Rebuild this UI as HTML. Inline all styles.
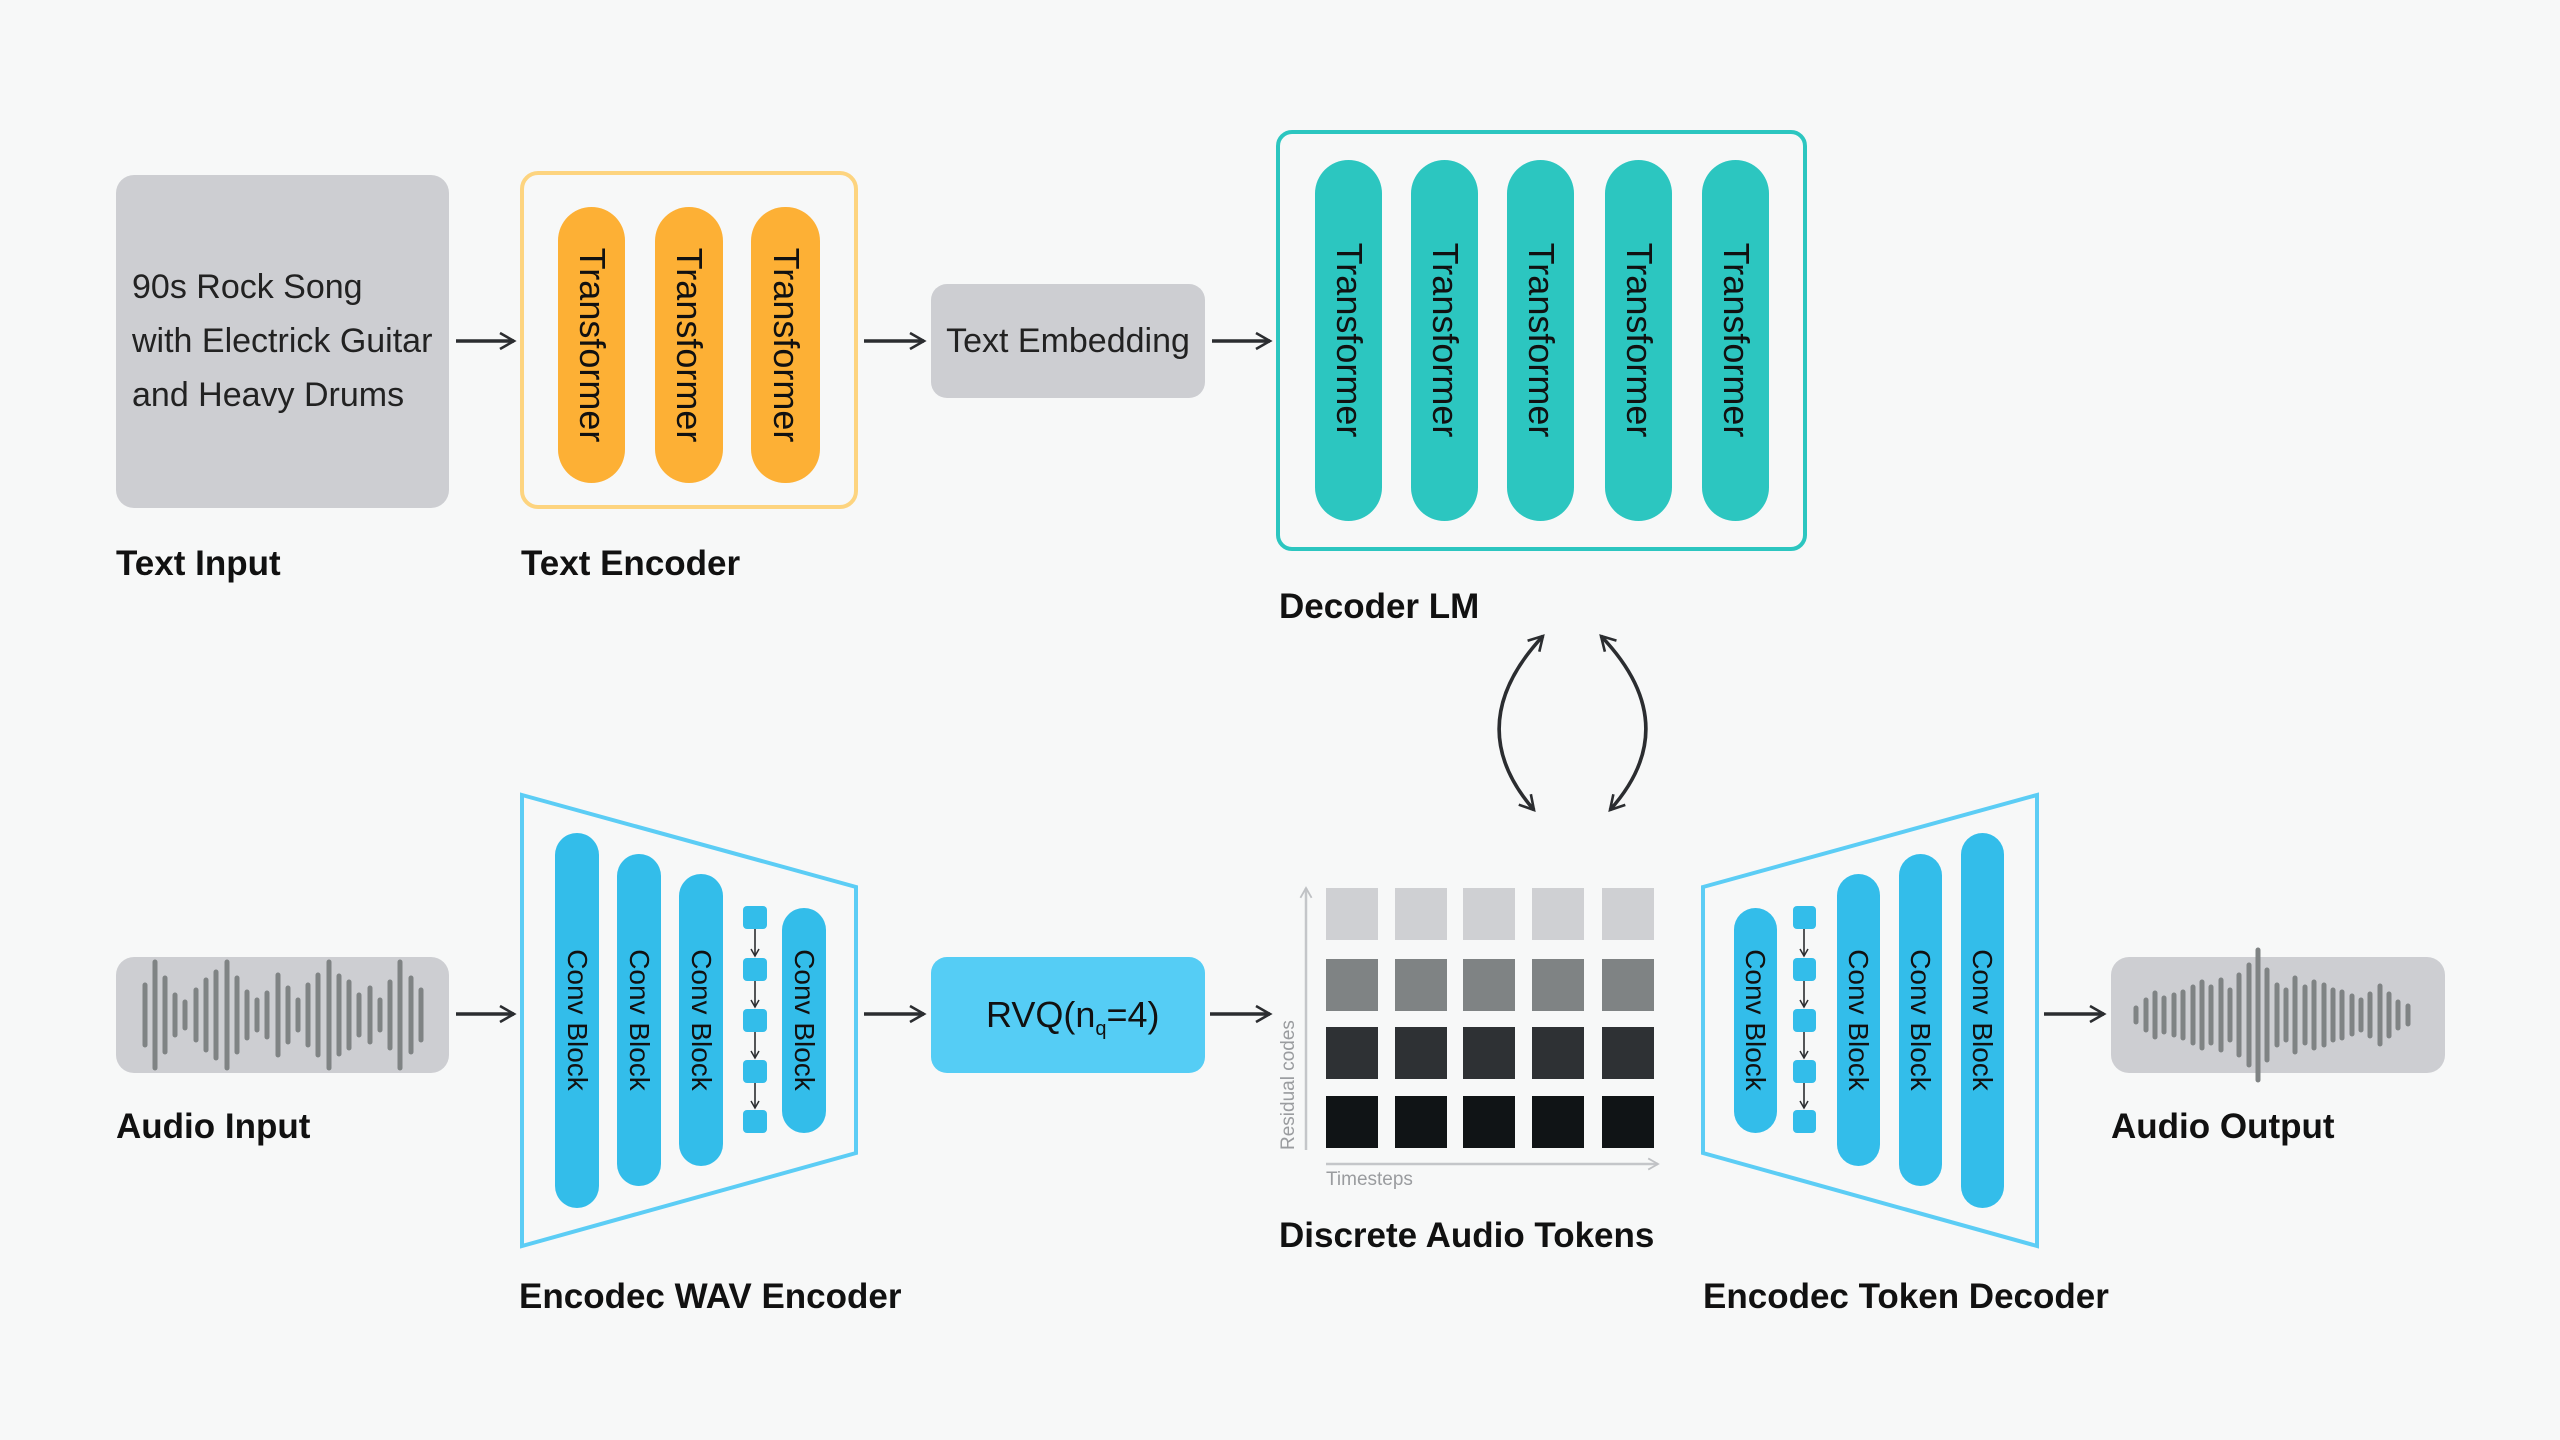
<!DOCTYPE html>
<html><head><meta charset="utf-8"><style>
html,body{margin:0;padding:0;background:#f7f8f8;}
svg{display:block;}
text{font-family:"Liberation Sans",sans-serif;}
</style></head><body>
<svg width="2560" height="1440" viewBox="0 0 2560 1440" xmlns="http://www.w3.org/2000/svg">
<defs>
<marker id="ah" viewBox="0 0 10 10" refX="8" refY="5" markerWidth="7" markerHeight="7" orient="auto-start-reverse" markerUnits="userSpaceOnUse">
<path d="M1,1 L8,5 L1,9" fill="none" stroke="#2b2d30" stroke-width="1.6"/>
</marker>
<marker id="ah2" viewBox="0 0 10 10" refX="8" refY="5" markerWidth="20" markerHeight="20" orient="auto-start-reverse" markerUnits="userSpaceOnUse">
<path d="M1,1 L8,5 L1,9" fill="none" stroke="#2b2d30" stroke-width="1.3"/>
</marker>
<marker id="ahs" viewBox="0 0 10 10" refX="8" refY="5" markerWidth="10" markerHeight="10" orient="auto" markerUnits="userSpaceOnUse">
<path d="M1,1 L8,5 L1,9" fill="none" stroke="#2b2d30" stroke-width="1.5"/>
</marker>
<marker id="ahg" viewBox="0 0 10 10" refX="8" refY="5" markerWidth="14" markerHeight="14" orient="auto" markerUnits="userSpaceOnUse">
<path d="M1,1 L8,5 L1,9" fill="none" stroke="#bfc1c4" stroke-width="1.3"/>
</marker>
</defs>
<rect width="2560" height="1440" fill="#f7f8f8"/>

<!-- Text input -->
<rect x="116" y="175" width="333" height="333" rx="18" fill="#cdced2"/>
<text font-size="34" fill="#222" x="132" y="298">90s Rock Song</text>
<text font-size="34" fill="#222" x="132" y="352">with Electrick Guitar</text>
<text font-size="34" fill="#222" x="132" y="406">and Heavy Drums</text>
<text font-size="35" font-weight="bold" fill="#111" x="116" y="575">Text Input</text>

<!-- Text encoder -->
<rect x="522" y="173" width="334" height="334" rx="16" fill="none" stroke="#fdd47f" stroke-width="4"/>
<g fill="#fdb035">
<rect x="558" y="207" width="67" height="276" rx="33.5"/>
<rect x="655" y="207" width="68" height="276" rx="34"/>
<rect x="751" y="207" width="69" height="276" rx="34"/>
</g>
<g font-size="36" fill="#111" text-anchor="middle">
<text transform="translate(580,345) rotate(90)">Transformer</text>
<text transform="translate(677,345) rotate(90)">Transformer</text>
<text transform="translate(774,345) rotate(90)">Transformer</text>
</g>
<text font-size="35" font-weight="bold" fill="#111" x="521" y="575">Text Encoder</text>

<!-- Text embedding -->
<rect x="931" y="284" width="274" height="114" rx="16" fill="#cdced2"/>
<text font-size="34" fill="#222" x="1068" y="352" text-anchor="middle">Text Embedding</text>

<!-- Decoder LM -->
<rect x="1278" y="132" width="527" height="417" rx="14" fill="none" stroke="#2cc6c0" stroke-width="4"/>
<g fill="#2cc6c0">
<rect x="1315" y="160" width="67" height="361" rx="33.5"/>
<rect x="1411" y="160" width="67" height="361" rx="33.5"/>
<rect x="1507" y="160" width="67" height="361" rx="33.5"/>
<rect x="1605" y="160" width="67" height="361" rx="33.5"/>
<rect x="1702" y="160" width="67" height="361" rx="33.5"/>
</g>
<g font-size="36" fill="#111" text-anchor="middle">
<text transform="translate(1337,340) rotate(90)">Transformer</text>
<text transform="translate(1433,340) rotate(90)">Transformer</text>
<text transform="translate(1529,340) rotate(90)">Transformer</text>
<text transform="translate(1627,340) rotate(90)">Transformer</text>
<text transform="translate(1724,340) rotate(90)">Transformer</text>
</g>
<text font-size="35" font-weight="bold" fill="#111" x="1279" y="618">Decoder LM</text>

<!-- top arrows -->
<g stroke="#2b2d30" stroke-width="3.5" fill="none">
<line x1="456" y1="341" x2="514" y2="341" marker-end="url(#ah2)"/>
<line x1="864" y1="341" x2="924" y2="341" marker-end="url(#ah2)"/>
<line x1="1212" y1="341" x2="1270" y2="341" marker-end="url(#ah2)"/>
<line x1="456" y1="1014" x2="514" y2="1014" marker-end="url(#ah2)"/>
<line x1="864" y1="1014" x2="924" y2="1014" marker-end="url(#ah2)"/>
<line x1="1210" y1="1014" x2="1270" y2="1014" marker-end="url(#ah2)"/>
<line x1="2044" y1="1014" x2="2104" y2="1014" marker-end="url(#ah2)"/>
<path d="M1543,636 Q1460,725 1534,810" marker-start="url(#ah2)" marker-end="url(#ah2)"/>
<path d="M1601,636 Q1686,725 1610,810" marker-start="url(#ah2)" marker-end="url(#ah2)"/>
</g>

<!-- Audio input -->
<rect x="116" y="957" width="333" height="116" rx="18" fill="#cdced2"/>
<g stroke="#7f8384" stroke-width="5" stroke-linecap="round" id="wi"></g>
<g stroke="#7f8384" stroke-width="5" stroke-linecap="round">
<line x1="145" y1="985" x2="145" y2="1045"/>
<line x1="155" y1="962" x2="155" y2="1068"/>
<line x1="165" y1="978" x2="165" y2="1052"/>
<line x1="175" y1="995" x2="175" y2="1035"/>
<line x1="185" y1="1002" x2="185" y2="1028"/>
<line x1="196" y1="990" x2="196" y2="1040"/>
<line x1="206" y1="980" x2="206" y2="1050"/>
<line x1="216" y1="972" x2="216" y2="1058"/>
<line x1="227" y1="962" x2="227" y2="1068"/>
<line x1="237" y1="978" x2="237" y2="1052"/>
<line x1="247" y1="992" x2="247" y2="1038"/>
<line x1="257" y1="1000" x2="257" y2="1030"/>
<line x1="267" y1="993" x2="267" y2="1037"/>
<line x1="278" y1="975" x2="278" y2="1055"/>
<line x1="288" y1="988" x2="288" y2="1042"/>
<line x1="298" y1="1000" x2="298" y2="1030"/>
<line x1="308" y1="985" x2="308" y2="1045"/>
<line x1="318" y1="975" x2="318" y2="1055"/>
<line x1="329" y1="962" x2="329" y2="1068"/>
<line x1="339" y1="976" x2="339" y2="1054"/>
<line x1="349" y1="982" x2="349" y2="1048"/>
<line x1="359" y1="995" x2="359" y2="1035"/>
<line x1="370" y1="988" x2="370" y2="1042"/>
<line x1="380" y1="1000" x2="380" y2="1030"/>
<line x1="390" y1="982" x2="390" y2="1048"/>
<line x1="400" y1="962" x2="400" y2="1068"/>
<line x1="411" y1="978" x2="411" y2="1052"/>
<line x1="421" y1="990" x2="421" y2="1040"/>
</g>
<text font-size="35" font-weight="bold" fill="#111" x="116" y="1138">Audio Input</text>

<!-- Encoder trapezoid -->
<polygon points="522,795 856,887 856,1153 522,1246" fill="none" stroke="#5ccdf5" stroke-width="4"/>
<g fill="#33bdea">
<rect x="555" y="833" width="44" height="375" rx="22"/>
<rect x="617" y="854" width="44" height="332" rx="22"/>
<rect x="679" y="874" width="44" height="292" rx="22"/>
<rect x="782" y="908" width="44" height="225" rx="22"/>
<rect x="743" y="906" width="24" height="23" rx="4"/>
<rect x="743" y="958" width="24" height="23" rx="4"/>
<rect x="743" y="1009" width="24" height="23" rx="4"/>
<rect x="743" y="1060" width="24" height="23" rx="4"/>
<rect x="743" y="1110" width="24" height="23" rx="4"/>
</g>
<g stroke="#2b2d30" stroke-width="1.6">
<line x1="755" y1="929" x2="755" y2="956" marker-end="url(#ahs)"/>
<line x1="755" y1="981" x2="755" y2="1007" marker-end="url(#ahs)"/>
<line x1="755" y1="1032" x2="755" y2="1058" marker-end="url(#ahs)"/>
<line x1="755" y1="1083" x2="755" y2="1108" marker-end="url(#ahs)"/>
</g>
<g font-size="28" fill="#111" text-anchor="middle">
<text transform="translate(568,1020) rotate(90)">Conv Block</text>
<text transform="translate(630,1020) rotate(90)">Conv Block</text>
<text transform="translate(692,1020) rotate(90)">Conv Block</text>
<text transform="translate(795,1020) rotate(90)">Conv Block</text>
</g>
<text font-size="35" font-weight="bold" fill="#111" x="519" y="1308">Encodec WAV Encoder</text>

<!-- RVQ -->
<rect x="931" y="957" width="274" height="116" rx="16" fill="#55cdf5"/>
<text font-size="36" fill="#111" x="986" y="1027">RVQ(n<tspan font-size="20" dy="8">q</tspan><tspan dy="-8">=4)</tspan></text>

<!-- Tokens -->
<g>
<rect x="1326" y="888" width="52" height="52" fill="#cfd0d3"/><rect x="1395" y="888" width="52" height="52" fill="#cfd0d3"/><rect x="1463" y="888" width="52" height="52" fill="#cfd0d3"/><rect x="1532" y="888" width="52" height="52" fill="#cfd0d3"/><rect x="1602" y="888" width="52" height="52" fill="#cfd0d3"/>
<rect x="1326" y="959" width="52" height="52" fill="#7f8384"/><rect x="1395" y="959" width="52" height="52" fill="#7f8384"/><rect x="1463" y="959" width="52" height="52" fill="#7f8384"/><rect x="1532" y="959" width="52" height="52" fill="#7f8384"/><rect x="1602" y="959" width="52" height="52" fill="#7f8384"/>
<rect x="1326" y="1027" width="52" height="52" fill="#2e3134"/><rect x="1395" y="1027" width="52" height="52" fill="#2e3134"/><rect x="1463" y="1027" width="52" height="52" fill="#2e3134"/><rect x="1532" y="1027" width="52" height="52" fill="#2e3134"/><rect x="1602" y="1027" width="52" height="52" fill="#2e3134"/>
<rect x="1326" y="1096" width="52" height="52" fill="#101416"/><rect x="1395" y="1096" width="52" height="52" fill="#101416"/><rect x="1463" y="1096" width="52" height="52" fill="#101416"/><rect x="1532" y="1096" width="52" height="52" fill="#101416"/><rect x="1602" y="1096" width="52" height="52" fill="#101416"/>
</g>
<g stroke="#c4c6c9" stroke-width="2.5">
<line x1="1306" y1="1150" x2="1306" y2="888" marker-end="url(#ahg)"/>
<line x1="1326" y1="1164" x2="1658" y2="1164" marker-end="url(#ahg)"/>
</g>
<text font-size="19" fill="#9a9c9f" transform="translate(1294,1150) rotate(-90)">Residual codes</text>
<text font-size="19" fill="#9a9c9f" x="1326" y="1185">Timesteps</text>
<text font-size="35" font-weight="bold" fill="#111" x="1279" y="1247">Discrete Audio Tokens</text>

<!-- Decoder trapezoid -->
<polygon points="1703,887 2037,795 2037,1246 1703,1153" fill="none" stroke="#5ccdf5" stroke-width="4"/>
<g fill="#33bdea">
<rect x="1734" y="908" width="43" height="225" rx="21.5"/>
<rect x="1837" y="874" width="43" height="292" rx="21.5"/>
<rect x="1899" y="854" width="43" height="332" rx="21.5"/>
<rect x="1961" y="833" width="43" height="375" rx="21.5"/>
<rect x="1793" y="906" width="23" height="23" rx="4"/>
<rect x="1793" y="958" width="23" height="23" rx="4"/>
<rect x="1793" y="1009" width="23" height="23" rx="4"/>
<rect x="1793" y="1060" width="23" height="23" rx="4"/>
<rect x="1793" y="1110" width="23" height="23" rx="4"/>
</g>
<g stroke="#2b2d30" stroke-width="1.6">
<line x1="1804" y1="929" x2="1804" y2="956" marker-end="url(#ahs)"/>
<line x1="1804" y1="981" x2="1804" y2="1007" marker-end="url(#ahs)"/>
<line x1="1804" y1="1032" x2="1804" y2="1058" marker-end="url(#ahs)"/>
<line x1="1804" y1="1083" x2="1804" y2="1108" marker-end="url(#ahs)"/>
</g>
<g font-size="28" fill="#111" text-anchor="middle">
<text transform="translate(1746,1020) rotate(90)">Conv Block</text>
<text transform="translate(1849,1020) rotate(90)">Conv Block</text>
<text transform="translate(1911,1020) rotate(90)">Conv Block</text>
<text transform="translate(1973,1020) rotate(90)">Conv Block</text>
</g>
<text font-size="35" font-weight="bold" fill="#111" x="1703" y="1308">Encodec Token Decoder</text>

<!-- Audio output -->
<rect x="2111" y="957" width="334" height="116" rx="18" fill="#cdced2"/>
<g stroke="#7f8384" stroke-width="5" stroke-linecap="round">
<line x1="2136" y1="1008" x2="2136" y2="1022"/>
<line x1="2146" y1="1000" x2="2146" y2="1030"/>
<line x1="2155" y1="993" x2="2155" y2="1037"/>
<line x1="2164" y1="998" x2="2164" y2="1032"/>
<line x1="2174" y1="995" x2="2174" y2="1035"/>
<line x1="2183" y1="992" x2="2183" y2="1038"/>
<line x1="2193" y1="987" x2="2193" y2="1043"/>
<line x1="2202" y1="982" x2="2202" y2="1048"/>
<line x1="2211" y1="987" x2="2211" y2="1043"/>
<line x1="2221" y1="980" x2="2221" y2="1050"/>
<line x1="2230" y1="990" x2="2230" y2="1040"/>
<line x1="2239" y1="975" x2="2239" y2="1055"/>
<line x1="2249" y1="965" x2="2249" y2="1065"/>
<line x1="2258" y1="950" x2="2258" y2="1080"/>
<line x1="2267" y1="970" x2="2267" y2="1060"/>
<line x1="2277" y1="985" x2="2277" y2="1045"/>
<line x1="2286" y1="990" x2="2286" y2="1040"/>
<line x1="2295" y1="978" x2="2295" y2="1052"/>
<line x1="2305" y1="987" x2="2305" y2="1043"/>
<line x1="2314" y1="982" x2="2314" y2="1048"/>
<line x1="2324" y1="985" x2="2324" y2="1045"/>
<line x1="2333" y1="990" x2="2333" y2="1040"/>
<line x1="2342" y1="992" x2="2342" y2="1038"/>
<line x1="2352" y1="996" x2="2352" y2="1034"/>
<line x1="2361" y1="1000" x2="2361" y2="1030"/>
<line x1="2370" y1="994" x2="2370" y2="1036"/>
<line x1="2380" y1="986" x2="2380" y2="1044"/>
<line x1="2389" y1="994" x2="2389" y2="1036"/>
<line x1="2398" y1="1002" x2="2398" y2="1028"/>
<line x1="2408" y1="1006" x2="2408" y2="1024"/>
</g>
<text font-size="35" font-weight="bold" fill="#111" x="2111" y="1138">Audio Output</text>
</svg>
</body></html>
